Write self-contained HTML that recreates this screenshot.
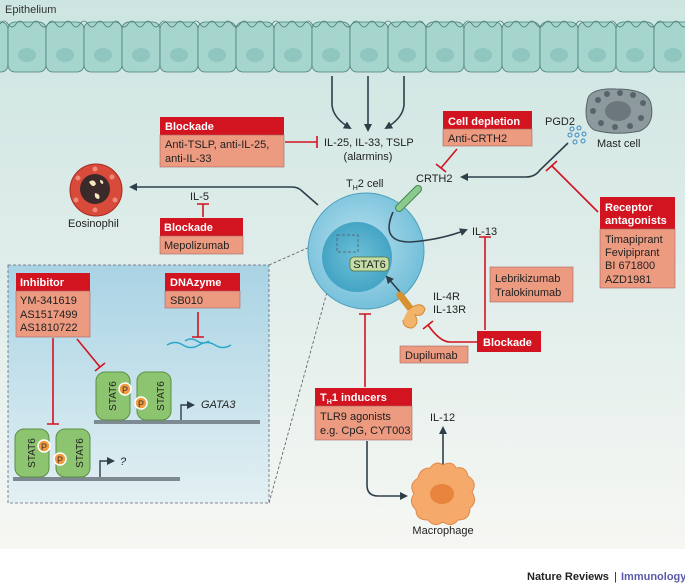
<!DOCTYPE html>
<html><head><meta charset="utf-8"><style>
html,body{margin:0;padding:0;background:#fff}
svg{display:block;font-family:"Liberation Sans",sans-serif}
</style></head><body>
<svg width="685" height="585" viewBox="0 0 685 585" xmlns="http://www.w3.org/2000/svg">
<defs>
<linearGradient id="bg" x1="0" y1="0" x2="0" y2="1">
<stop offset="0" stop-color="#cde5e1"/><stop offset="0.6" stop-color="#e4efec"/><stop offset="1" stop-color="#f6f7f3"/>
</linearGradient>
<linearGradient id="inset" x1="0" y1="0" x2="0" y2="1">
<stop offset="0" stop-color="#a9d3e4"/><stop offset="1" stop-color="#e3f0f3"/>
</linearGradient>
<radialGradient id="cell" cx="0.45" cy="0.45" r="0.6">
<stop offset="0" stop-color="#b7e0ee"/><stop offset="1" stop-color="#6fbdd8"/>
</radialGradient>
<radialGradient id="nuc" cx="0.5" cy="0.5" r="0.6">
<stop offset="0" stop-color="#6ec0d8"/><stop offset="1" stop-color="#3c9fc0"/>
</radialGradient>
<marker id="ar" markerWidth="8" markerHeight="8" refX="6" refY="4" orient="auto" markerUnits="userSpaceOnUse"><path d="M0,0 L8,4 L0,8 Z" fill="#2f3f4a"/></marker>
</defs>
<rect x="0" y="0" width="685" height="549" fill="url(#bg)"/>
<rect x="0" y="549" width="685" height="36" fill="#fff"/>
<text x="5" y="13" font-size="11" fill="#333">Epithelium</text>
<g stroke="#4b7f79" stroke-width="0.8" fill="#a6d5ce">
<rect x="-30" y="22" width="38" height="50" rx="7"/><rect x="8" y="22" width="38" height="50" rx="7"/><rect x="46" y="22" width="38" height="50" rx="7"/><rect x="84" y="22" width="38" height="50" rx="7"/><rect x="122" y="22" width="38" height="50" rx="7"/><rect x="160" y="22" width="38" height="50" rx="7"/><rect x="198" y="22" width="38" height="50" rx="7"/><rect x="236" y="22" width="38" height="50" rx="7"/><rect x="274" y="22" width="38" height="50" rx="7"/><rect x="312" y="22" width="38" height="50" rx="7"/><rect x="350" y="22" width="38" height="50" rx="7"/><rect x="388" y="22" width="38" height="50" rx="7"/><rect x="426" y="22" width="38" height="50" rx="7"/><rect x="464" y="22" width="38" height="50" rx="7"/><rect x="502" y="22" width="38" height="50" rx="7"/><rect x="540" y="22" width="38" height="50" rx="7"/><rect x="578" y="22" width="38" height="50" rx="7"/><rect x="616" y="22" width="38" height="50" rx="7"/><rect x="654" y="22" width="38" height="50" rx="7"/>
</g>
<g fill="#8fc6bf">
<ellipse cx="-11" cy="55" rx="9" ry="7"/><ellipse cx="27" cy="55" rx="9" ry="7"/><ellipse cx="65" cy="55" rx="9" ry="7"/><ellipse cx="103" cy="55" rx="9" ry="7"/><ellipse cx="141" cy="55" rx="9" ry="7"/><ellipse cx="179" cy="55" rx="9" ry="7"/><ellipse cx="217" cy="55" rx="9" ry="7"/><ellipse cx="255" cy="55" rx="9" ry="7"/><ellipse cx="293" cy="55" rx="9" ry="7"/><ellipse cx="331" cy="55" rx="9" ry="7"/><ellipse cx="369" cy="55" rx="9" ry="7"/><ellipse cx="407" cy="55" rx="9" ry="7"/><ellipse cx="445" cy="55" rx="9" ry="7"/><ellipse cx="483" cy="55" rx="9" ry="7"/><ellipse cx="521" cy="55" rx="9" ry="7"/><ellipse cx="559" cy="55" rx="9" ry="7"/><ellipse cx="597" cy="55" rx="9" ry="7"/><ellipse cx="635" cy="55" rx="9" ry="7"/><ellipse cx="673" cy="55" rx="9" ry="7"/>
</g>
<path d="M0,24 Q4,18 8,24 T16,24 T24,24 T32,24 T40,24 T48,24 T56,24 T64,24 T72,24 T80,24 T88,24 T96,24 T104,24 T112,24 T120,24 T128,24 T136,24 T144,24 T152,24 T160,24 T168,24 T176,24 T184,24 T192,24 T200,24 T208,24 T216,24 T224,24 T232,24 T240,24 T248,24 T256,24 T264,24 T272,24 T280,24 T288,24 T296,24 T304,24 T312,24 T320,24 T328,24 T336,24 T344,24 T352,24 T360,24 T368,24 T376,24 T384,24 T392,24 T400,24 T408,24 T416,24 T424,24 T432,24 T440,24 T448,24 T456,24 T464,24 T472,24 T480,24 T488,24 T496,24 T504,24 T512,24 T520,24 T528,24 T536,24 T544,24 T552,24 T560,24 T568,24 T576,24 T584,24 T592,24 T600,24 T608,24 T616,24 T624,24 T632,24 T640,24 T648,24 T656,24 T664,24 T672,24 T680,24 T688,24" fill="none" stroke="#4b7f79" stroke-width="0.8"/>

<g stroke="#2f3f4a" stroke-width="1.6" fill="none">
<path d="M332,76 V105 Q333,118 350,128" marker-end="url(#ar)"/>
<path d="M368,76 V130" marker-end="url(#ar)"/>
<path d="M404,76 V105 Q403,118 386,128" marker-end="url(#ar)"/>
</g>
<text x="324" y="146" font-size="11" fill="#222">IL-25, IL-33, TSLP</text>
<text x="368" y="160" font-size="11" fill="#222" text-anchor="middle">(alarmins)</text>

<rect x="160" y="117" width="124" height="18" fill="#d21320"/>
<rect x="160" y="135" width="124" height="32" fill="#ec9a80" stroke="#a66" stroke-width="0.6"/>
<text x="165" y="130" font-size="11" font-weight="bold" fill="#fff">Blockade</text>
<text x="165" y="148" font-size="11" fill="#222">Anti-TSLP, anti-IL-25,</text>
<text x="165" y="162" font-size="11" fill="#222">anti-IL-33</text>
<path d="M285,142 H317 M317,136 V148" stroke="#d21320" stroke-width="1.6"/>

<rect x="443" y="111" width="89" height="18" fill="#d21320"/>
<rect x="443" y="129" width="89" height="17" fill="#ec9a80" stroke="#a66" stroke-width="0.6"/>
<text x="448" y="125" font-size="11" font-weight="bold" fill="#fff">Cell depletion</text>
<text x="448" y="142" font-size="11" fill="#222">Anti-CRTH2</text>
<path d="M457,149 L441,168 M436,164 L446,172" stroke="#d21320" stroke-width="1.6"/>
<text x="416" y="182" font-size="11" fill="#222">CRTH2</text>

<path d="M588,98 Q592,88 616,89 Q648,89 651,104 Q655,124 640,131 Q616,136 594,130 Q582,122 588,98 Z" fill="#8c9a9e" stroke="#55636a" stroke-width="1"/>
<ellipse cx="618" cy="111" rx="13" ry="10" fill="#6b777c"/>
<g fill="#56646b"><circle cx="598" cy="100" r="3"/><circle cx="607" cy="94" r="3"/><circle cx="620" cy="93" r="3"/><circle cx="633" cy="95" r="3"/><circle cx="643" cy="103" r="3"/><circle cx="641" cy="118" r="3"/><circle cx="630" cy="126" r="3"/><circle cx="615" cy="127" r="3"/><circle cx="601" cy="123" r="3"/><circle cx="593" cy="111" r="3"/></g>
<text x="545" y="125" font-size="11" fill="#222">PGD2</text>
<g fill="none" stroke="#3a8ac4" stroke-width="1"><circle cx="572" cy="129" r="2"/><circle cx="579" cy="128" r="2"/><circle cx="570" cy="135" r="2"/><circle cx="577" cy="135" r="2"/><circle cx="584" cy="134" r="2"/><circle cx="575" cy="142" r="2"/><circle cx="583" cy="141" r="2"/></g>
<text x="597" y="147" font-size="11" fill="#222">Mast cell</text>
<path d="M568,143 L540,170 Q535,177 526,177 H462" fill="none" stroke="#2f3f4a" stroke-width="1.6" marker-end="url(#ar)"/>

<path d="M598,212 L552,166 M546,171 L557,161" stroke="#d21320" stroke-width="1.6" fill="none"/>
<rect x="600" y="197" width="75" height="32" fill="#d21320"/>
<rect x="600" y="229" width="75" height="59" fill="#ec9a80" stroke="#a66" stroke-width="0.6"/>
<text x="605" y="211" font-size="11" font-weight="bold" fill="#fff">Receptor</text>
<text x="605" y="224" font-size="11" font-weight="bold" fill="#fff">antagonists</text>
<text x="605" y="243" font-size="11" fill="#222">Timapiprant</text>
<text x="605" y="256" font-size="11" fill="#222">Fevipiprant</text>
<text x="605" y="269" font-size="11" fill="#222">BI 671800</text>
<text x="605" y="283" font-size="11" fill="#222">AZD1981</text>

<circle cx="96" cy="190" r="26" fill="#d84a3a" stroke="#a52a22" stroke-width="1"/>
<circle cx="95" cy="189" r="15" fill="#3b2a2a"/>
<path d="M89,182 q5,-4 7,2 q-3,5 -7,-2 M95,193 q6,1 4,6 q-5,0 -4,-6 M100,180 q4,0 3,4 q-3,0 -3,-4" fill="#f5e6c0"/>
<g fill="#f08a7a"><circle cx="78" cy="178" r="2.5"/><circle cx="112" cy="177" r="2.5"/><circle cx="76" cy="200" r="2.5"/><circle cx="115" cy="200" r="2.5"/><circle cx="95" cy="169" r="2.5"/><circle cx="95" cy="210" r="2.5"/></g>
<text x="68" y="227" font-size="11" fill="#222">Eosinophil</text>
<path d="M318,205 L302,191 Q298,187 292,187 H131" fill="none" stroke="#2f3f4a" stroke-width="1.6" marker-end="url(#ar)"/>
<text x="190" y="200" font-size="11" fill="#222">IL-5</text>
<path d="M203,217 V204 M197,204 H209" stroke="#d21320" stroke-width="1.6"/>
<rect x="160" y="218" width="83" height="18" fill="#d21320"/>
<rect x="160" y="236" width="83" height="18" fill="#ec9a80" stroke="#a66" stroke-width="0.6"/>
<text x="164" y="231" font-size="11" font-weight="bold" fill="#fff">Blockade</text>
<text x="164" y="249" font-size="11" fill="#222">Mepolizumab</text>

<path d="M269,265 L337,235 M269,503 L338,252" stroke="#556" stroke-width="0.8" stroke-dasharray="3,2" fill="none"/>
<rect x="8" y="265" width="261" height="238" fill="url(#inset)" stroke="#667" stroke-width="0.8" stroke-dasharray="3,2"/>

<text x="346" y="187" font-size="11" fill="#222">T<tspan font-size="7" dy="3">H</tspan><tspan dy="-3">2 cell</tspan></text>
<circle cx="366" cy="251" r="58" fill="url(#cell)" stroke="#4e9fbd" stroke-width="1"/>
<circle cx="357" cy="257" r="35" fill="url(#nuc)"/>
<rect x="337" y="235" width="21" height="17" fill="none" stroke="#556" stroke-width="0.8" stroke-dasharray="3,2"/>
<rect x="350" y="257" width="39" height="14" rx="4" fill="#c5dca6" stroke="#4f6f3a" stroke-width="0.8"/>
<text x="369.5" y="268" font-size="11" fill="#222" text-anchor="middle">STAT6</text>
<path d="M399,208 L418,189" stroke="#3f8a4f" stroke-width="8" stroke-linecap="round"/>
<path d="M399,208 L418,189" stroke="#8cc98f" stroke-width="6" stroke-linecap="round"/>
<path d="M393,212 Q380,242 410,242 Q440,240 466,230" fill="none" stroke="#2f3f4a" stroke-width="1.6" marker-end="url(#ar)"/>
<text x="472" y="235" font-size="11" fill="#222">IL-13</text>
<path d="M400,292 L387,277" stroke="#2f3f4a" stroke-width="1.6" marker-end="url(#ar)"/>
<path d="M400,295 L413,312" stroke="#d9912f" stroke-width="7" stroke-linecap="round"/>
<path d="M408,310 Q421,300 425,309 Q423,317 415,315 Q420,324 412,328 Q403,328 403,320" fill="#f2b36a" stroke="#d48a35" stroke-width="1"/>
<text x="433" y="300" font-size="11" fill="#222">IL-4R</text>
<text x="433" y="313" font-size="11" fill="#222">IL-13R</text>
<path d="M485,330 V237 M479,237 H491" stroke="#d21320" stroke-width="1.6" fill="none"/>
<rect x="490" y="267" width="83" height="35" fill="#ec9a80" stroke="#a66" stroke-width="0.6"/>
<text x="495" y="282" font-size="11" fill="#222">Lebrikizumab</text>
<text x="495" y="296" font-size="11" fill="#222">Tralokinumab</text>
<rect x="477" y="331" width="64" height="21" fill="#d21320"/>
<text x="483" y="346" font-size="11" font-weight="bold" fill="#fff">Blockade</text>
<path d="M477,342 H450 Q440,342 428,325 M423,329 L433,321" stroke="#d21320" stroke-width="1.6" fill="none"/>
<rect x="400" y="346" width="68" height="17" fill="#ec9a80" stroke="#a66" stroke-width="0.6"/>
<text x="405" y="359" font-size="11" fill="#222">Dupilumab</text>

<path d="M365,387 V314 M359,314 H371" stroke="#d21320" stroke-width="1.6" fill="none"/>
<rect x="315" y="388" width="97" height="18" fill="#d21320"/>
<rect x="315" y="406" width="97" height="34" fill="#ec9a80" stroke="#a66" stroke-width="0.6"/>
<text x="320" y="401" font-size="11" font-weight="bold" fill="#fff">T<tspan font-size="7" dy="3">H</tspan><tspan dy="-3">1 inducers</tspan></text>
<text x="320" y="420" font-size="11" fill="#222">TLR9 agonists</text>
<text x="320" y="434" font-size="11" fill="#222">e.g. CpG, CYT003</text>
<path d="M367,441 V485 Q367,496 378,496 H406" fill="none" stroke="#2f3f4a" stroke-width="1.6" marker-end="url(#ar)"/>
<path d="M443,465 V428" stroke="#2f3f4a" stroke-width="1.6" marker-end="url(#ar)"/>
<text x="430" y="421" font-size="11" fill="#222">IL-12</text>
<path d="M443,465 Q452,460 456,468 Q466,466 468,476 Q478,482 472,492 Q478,502 470,508 Q470,520 458,520 Q452,528 443,522 Q434,528 428,520 Q416,520 416,510 Q408,502 414,494 Q408,484 418,478 Q420,468 430,468 Q436,460 443,465 Z" fill="#f5a96a" stroke="#e08a4a" stroke-width="1"/>
<ellipse cx="442" cy="494" rx="12" ry="10" fill="#e8843e"/>
<text x="443" y="534" font-size="11" fill="#222" text-anchor="middle">Macrophage</text>

<rect x="16" y="273" width="74" height="18" fill="#d21320"/>
<rect x="16" y="291" width="74" height="46" fill="#ec9a80" stroke="#a66" stroke-width="0.6"/>
<text x="20" y="286" font-size="11" font-weight="bold" fill="#fff">Inhibitor</text>
<text x="20" y="304" font-size="11" fill="#222">YM-341619</text>
<text x="20" y="318" font-size="11" fill="#222">AS1517499</text>
<text x="20" y="331" font-size="11" fill="#222">AS1810722</text>
<rect x="165" y="273" width="75" height="18" fill="#d21320"/>
<rect x="165" y="291" width="75" height="17" fill="#ec9a80" stroke="#a66" stroke-width="0.6"/>
<text x="170" y="286" font-size="11" font-weight="bold" fill="#fff">DNAzyme</text>
<text x="170" y="304" font-size="11" fill="#222">SB010</text>
<path d="M198,312 V337 M192,337 H204" stroke="#d21320" stroke-width="1.6" fill="none"/>
<path d="M167,345 q8,-5 16,0 t16,0 t16,0 t16,0 M185,341 q6,-4 12,0 t12,0" fill="none" stroke="#2aa7c9" stroke-width="1.4"/>
<path d="M53,338 V424 M47,424 H59" stroke="#d21320" stroke-width="1.6" fill="none"/>
<path d="M77,339 L100,367 M95,371 L105,363" stroke="#d21320" stroke-width="1.6" fill="none"/>
<rect x="94" y="420" width="166" height="4" fill="#7d8a92"/>
<rect x="96" y="372" width="34" height="48" rx="9" fill="#8dc46f" stroke="#5b8e45"/>
<rect x="137" y="372" width="34" height="48" rx="9" fill="#8dc46f" stroke="#5b8e45"/>
<text transform="translate(112,396) rotate(-90)" font-size="10" text-anchor="middle" fill="#222" dy="4">STAT6</text>
<text transform="translate(160,396) rotate(-90)" font-size="10" text-anchor="middle" fill="#222" dy="4">STAT6</text>
<circle cx="125" cy="389" r="6" fill="#f39a3d" stroke="#fff" stroke-width="1.5"/><text x="125" y="393" font-size="9" text-anchor="middle" fill="#333">P</text>
<circle cx="141" cy="403" r="6" fill="#f39a3d" stroke="#fff" stroke-width="1.5"/><text x="141" y="407" font-size="9" text-anchor="middle" fill="#333">P</text>
<path d="M181,420 V405 H193" fill="none" stroke="#2f3f4a" stroke-width="1.4" marker-end="url(#ar)"/>
<text x="201" y="408" font-size="11" font-style="italic" fill="#222">GATA3</text>
<rect x="13" y="477" width="167" height="4" fill="#7d8a92"/>
<rect x="15" y="429" width="34" height="48" rx="9" fill="#8dc46f" stroke="#5b8e45"/>
<rect x="56" y="429" width="34" height="48" rx="9" fill="#8dc46f" stroke="#5b8e45"/>
<text transform="translate(31,453) rotate(-90)" font-size="10" text-anchor="middle" fill="#222" dy="4">STAT6</text>
<text transform="translate(79,453) rotate(-90)" font-size="10" text-anchor="middle" fill="#222" dy="4">STAT6</text>
<circle cx="44" cy="446" r="6" fill="#f39a3d" stroke="#fff" stroke-width="1.5"/><text x="44" y="450" font-size="9" text-anchor="middle" fill="#333">P</text>
<circle cx="60" cy="459" r="6" fill="#f39a3d" stroke="#fff" stroke-width="1.5"/><text x="60" y="463" font-size="9" text-anchor="middle" fill="#333">P</text>
<path d="M100,477 V461 H113" fill="none" stroke="#2f3f4a" stroke-width="1.4" marker-end="url(#ar)"/>
<text x="120" y="465" font-size="11" font-style="italic" fill="#222">?</text>

<text x="527" y="580" font-size="11" font-weight="bold" fill="#222">Nature Reviews</text>
<text x="614" y="580" font-size="11" fill="#222">|</text>
<text x="621" y="580" font-size="11" font-weight="bold" fill="#5a5aa8">Immunology</text>
</svg>
</body></html>
